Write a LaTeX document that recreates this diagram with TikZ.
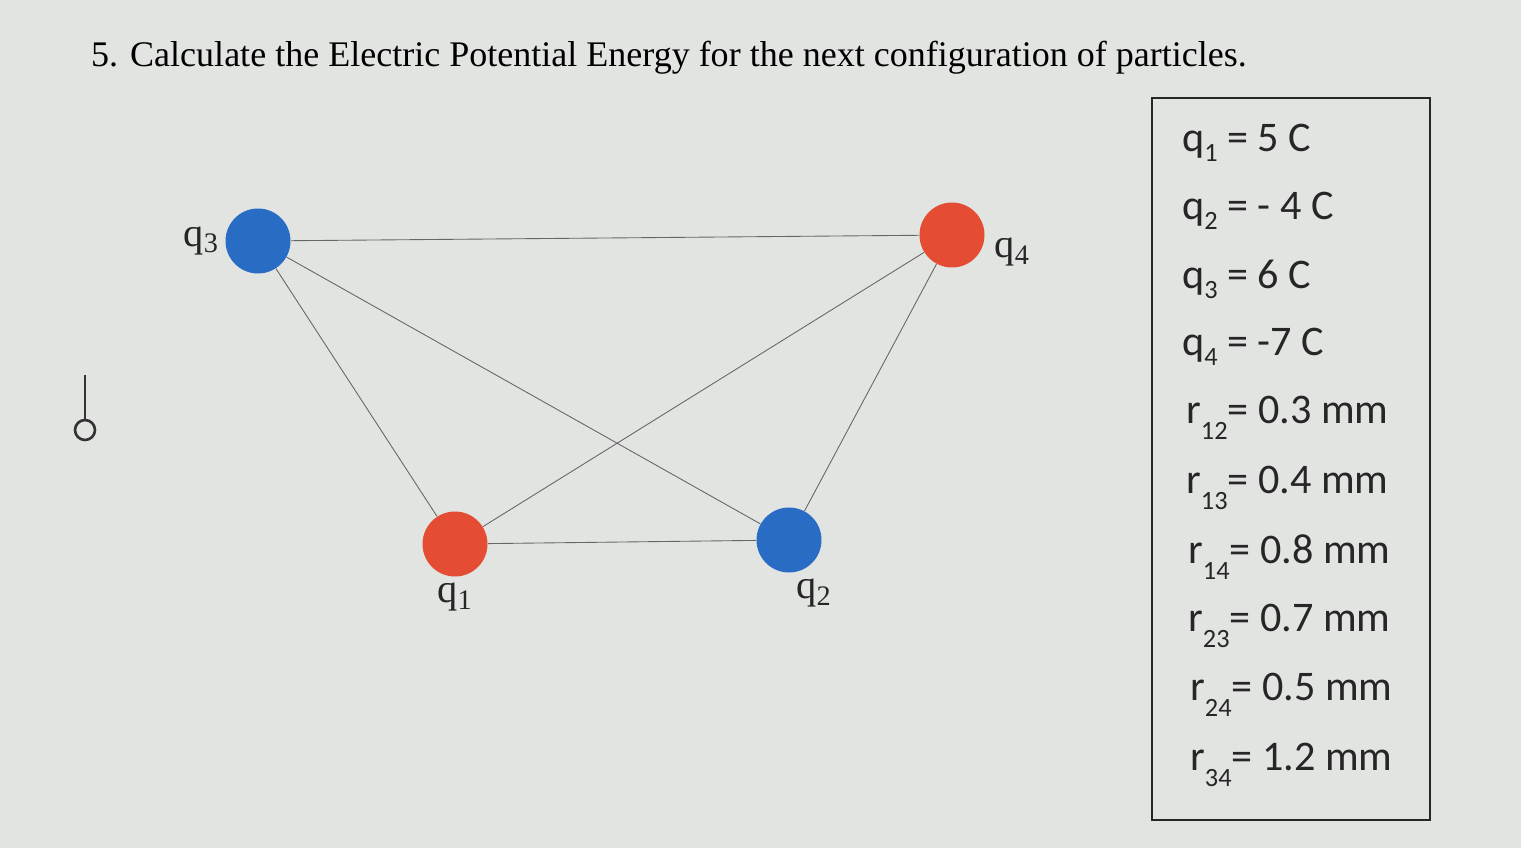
\documentclass[tikz,border=0pt]{standalone}
\usepackage{fontspec}
\setmainfont{Liberation Serif}
\newfontfamily\boxfont{Carlito}
\usetikzlibrary{positioning}
\definecolor{bgpaper}{RGB}{226,228,226}
\definecolor{chargeblue}{RGB}{40,108,196}
\definecolor{chargered}{RGB}{228,76,52}
\tikzset{
    charge/.style={circle, minimum size=1.3cm, inner sep=0pt},
    negcharge/.style={charge, fill=chargeblue},
    poscharge/.style={charge, fill=chargered},
    qlabel/.style={font=\fontsize{23}{26}\selectfont, text=black!85},
    link/.style={draw=black!60, line width=0.5pt},
    datarow/.style={anchor=west, font=\boxfont\fontsize{24}{27}\selectfont, text=black!85},
}
\newcommand{\qline}[2]{q\raisebox{-0.5ex}{\fontsize{15}{16}\selectfont#1} = #2}
\newcommand{\rline}[2]{r\raisebox{-0.8ex}{\fontsize{15}{16}\selectfont#1}= #2}
\begin{document}
\begin{tikzpicture}[x=0.02cm, y=-0.02cm]
    \fill[bgpaper] (0,0) rectangle (1521,848);
    \useasboundingbox (0,0) rectangle (1521,848);
    \node[anchor=west, font=\fontsize{20.5}{24}\selectfont] (title) at (85,58)
        {5. Calculate the Electric Potential Energy for the next configuration of particles.};
    % charges
    \node[negcharge] (q3) at (258,241) {};
    \node[poscharge] (q4) at (952,235) {};
    \node[poscharge] (q1) at (455,544) {};
    \node[negcharge] (q2) at (789,540) {};
    \node[qlabel, left=0pt of q3] (l3) {q\textsubscript{3}};
    \node[qlabel, right=2pt of q4, yshift=-0.35cm] (l4) {q\textsubscript{4}};
    \node[qlabel, below=0pt of q1] (l1) {q\textsubscript{1}};
    \node[qlabel, below=0pt of q2, xshift=0.5cm] (l2) {q\textsubscript{2}};
    \path[link] (q3) -- (q4) (q3) -- (q1) (q3) -- (q2)
        (q1) -- (q2) (q1) -- (q4) (q2) -- (q4);
    % small symbol on the left
    \node[circle, draw=black!80, line width=1.5pt, minimum size=0.4cm, inner sep=0pt] (pin) at (85,430) {};
    \coordinate (pintop) at (85,375);
    \draw[black!80, line width=1.2pt] (pintop) -- (pin.north);
    % data box
    \draw[black!85, line width=1.2pt] (1152,98) rectangle (1430,820);
    \node[datarow] (d1) at (1176,143) {\qline{1}{5 C}};
    \node[datarow] (d2) at (1176,211) {\qline{2}{- 4 C}};
    \node[datarow] (d3) at (1176,279) {\qline{3}{6 C}};
    \node[datarow] (d4) at (1176,347) {\qline{4}{-7 C}};
    \node[datarow] (d5) at (1180,418) {\rline{12}{0.3 mm}};
    \node[datarow] (d6) at (1180,488) {\rline{13}{0.4 mm}};
    \node[datarow] (d7) at (1182,557) {\rline{14}{0.8 mm}};
    \node[datarow] (d8) at (1182,626) {\rline{23}{0.7 mm}};
    \node[datarow] (d9) at (1184,695) {\rline{24}{0.5 mm}};
    \node[datarow] (d10) at (1184,765) {\rline{34}{1.2 mm}};
\end{tikzpicture}
\end{document}
